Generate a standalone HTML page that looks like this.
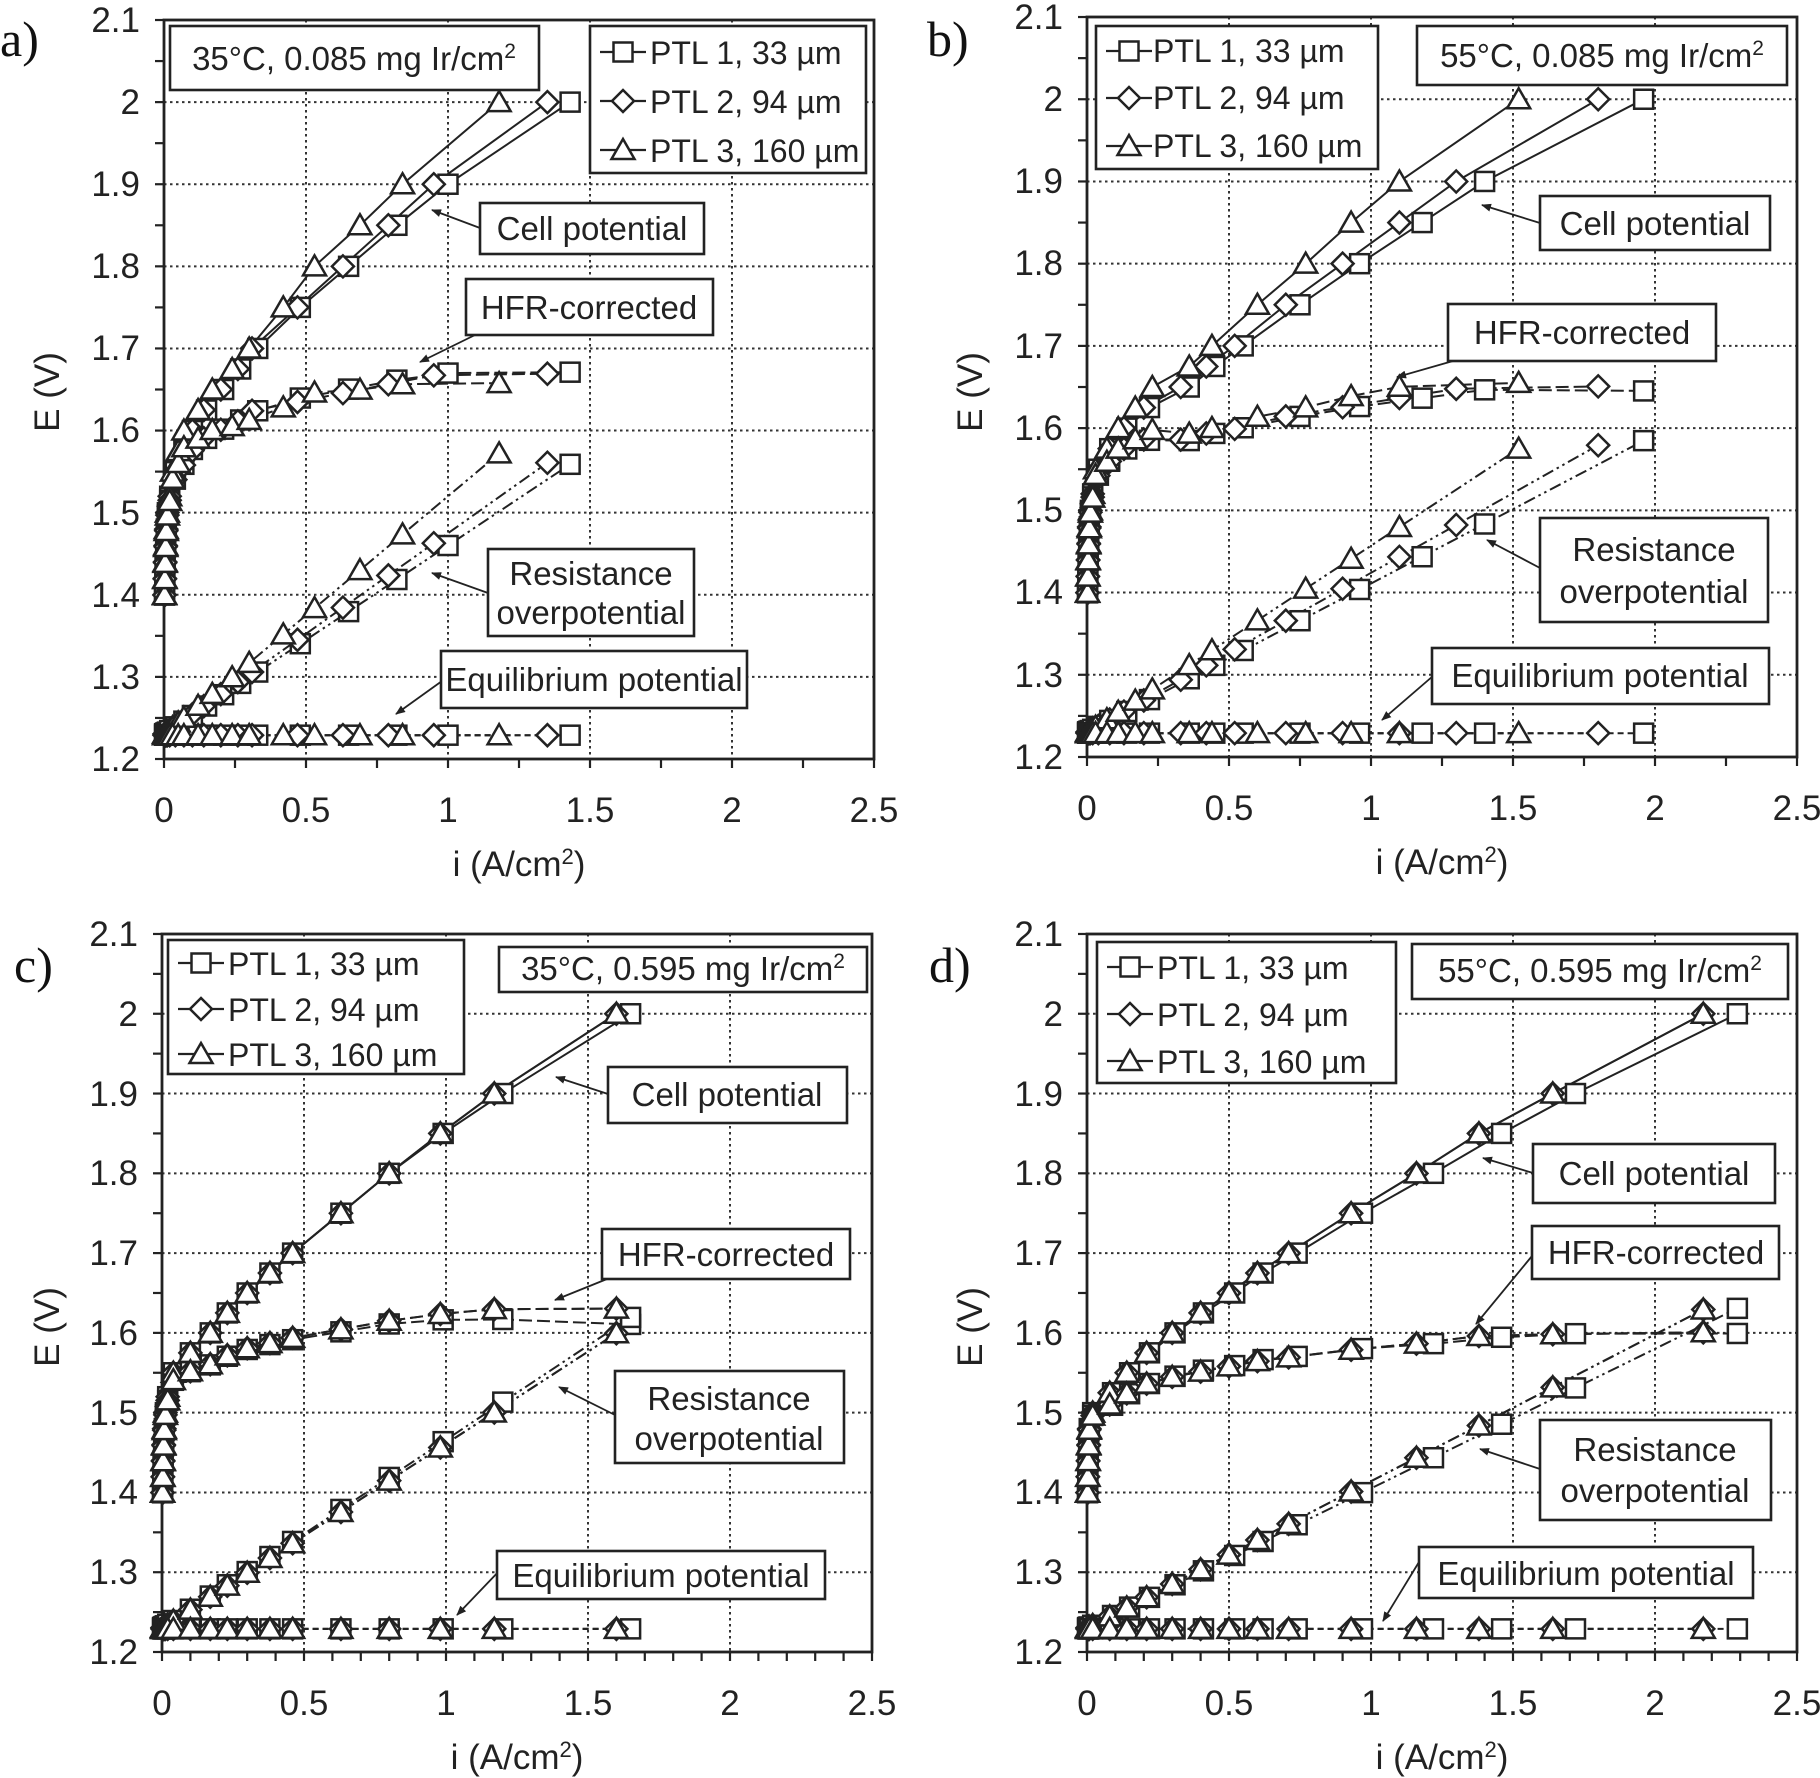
<!DOCTYPE html>
<html><head><meta charset="utf-8"><style>
html,body{margin:0;padding:0;background:#fff}
svg{display:block}
text{font-family:"Liberation Sans",Arial,sans-serif;fill:#222}
.tk{font-size:35px}
.ann{font-size:33px}
.lg{font-size:32px}
.pl{font-family:"Liberation Serif",serif;font-size:50px;fill:#111}
.bx{fill:#fff;stroke:#222;stroke-width:2.6}
.ar{stroke:#222;stroke-width:1.8;fill:none}
</style></head><body>
<svg id="s" width="1820" height="1778" viewBox="0 0 1820 1778" xmlns="http://www.w3.org/2000/svg">
<defs><marker id="ah" markerWidth="10" markerHeight="8" refX="9" refY="4" orient="auto" markerUnits="userSpaceOnUse"><path d="M0,0 L10,4 L0,8 z" fill="#222"/></marker></defs>
<g id="plots"></g>
<g id="labels">
<!-- Panel a -->
<text class="pl" x="0" y="56">a)</text>
<text class="tk" x="140" y="32" text-anchor="end">2.1</text>
<text class="tk" x="140" y="114" text-anchor="end">2</text>
<text class="tk" x="140" y="196" text-anchor="end">1.9</text>
<text class="tk" x="140" y="278" text-anchor="end">1.8</text>
<text class="tk" x="140" y="360" text-anchor="end">1.7</text>
<text class="tk" x="140" y="442" text-anchor="end">1.6</text>
<text class="tk" x="140" y="525" text-anchor="end">1.5</text>
<text class="tk" x="140" y="607" text-anchor="end">1.4</text>
<text class="tk" x="140" y="689" text-anchor="end">1.3</text>
<text class="tk" x="140" y="771" text-anchor="end">1.2</text>
<text class="tk" x="164" y="822" text-anchor="middle">0</text>
<text class="tk" x="306" y="822" text-anchor="middle">0.5</text>
<text class="tk" x="448" y="822" text-anchor="middle">1</text>
<text class="tk" x="590" y="822" text-anchor="middle">1.5</text>
<text class="tk" x="732" y="822" text-anchor="middle">2</text>
<text class="tk" x="874" y="822" text-anchor="middle">2.5</text>
<text class="tk" x="519" y="876" text-anchor="middle">i (A/cm<tspan font-size="22" dy="-12">2</tspan><tspan dy="12">)</tspan></text>
<text class="tk" transform="translate(59,392) rotate(-90)" text-anchor="middle">E (V)</text>
<!-- Panel b -->
<text class="pl" x="927" y="56">b)</text>
<text class="tk" x="1063" y="29" text-anchor="end">2.1</text>
<text class="tk" x="1063" y="111" text-anchor="end">2</text>
<text class="tk" x="1063" y="193" text-anchor="end">1.9</text>
<text class="tk" x="1063" y="275" text-anchor="end">1.8</text>
<text class="tk" x="1063" y="358" text-anchor="end">1.7</text>
<text class="tk" x="1063" y="440" text-anchor="end">1.6</text>
<text class="tk" x="1063" y="522" text-anchor="end">1.5</text>
<text class="tk" x="1063" y="604" text-anchor="end">1.4</text>
<text class="tk" x="1063" y="687" text-anchor="end">1.3</text>
<text class="tk" x="1063" y="769" text-anchor="end">1.2</text>
<text class="tk" x="1087" y="820" text-anchor="middle">0</text>
<text class="tk" x="1229" y="820" text-anchor="middle">0.5</text>
<text class="tk" x="1371" y="820" text-anchor="middle">1</text>
<text class="tk" x="1513" y="820" text-anchor="middle">1.5</text>
<text class="tk" x="1655" y="820" text-anchor="middle">2</text>
<text class="tk" x="1797" y="820" text-anchor="middle">2.5</text>
<text class="tk" x="1442" y="874" text-anchor="middle">i (A/cm<tspan font-size="22" dy="-12">2</tspan><tspan dy="12">)</tspan></text>
<text class="tk" transform="translate(982,392) rotate(-90)" text-anchor="middle">E (V)</text>
<!-- Panel c -->
<text class="pl" x="14" y="982">c)</text>
<text class="tk" x="138" y="946" text-anchor="end">2.1</text>
<text class="tk" x="138" y="1026" text-anchor="end">2</text>
<text class="tk" x="138" y="1106" text-anchor="end">1.9</text>
<text class="tk" x="138" y="1185" text-anchor="end">1.8</text>
<text class="tk" x="138" y="1265" text-anchor="end">1.7</text>
<text class="tk" x="138" y="1345" text-anchor="end">1.6</text>
<text class="tk" x="138" y="1425" text-anchor="end">1.5</text>
<text class="tk" x="138" y="1504" text-anchor="end">1.4</text>
<text class="tk" x="138" y="1584" text-anchor="end">1.3</text>
<text class="tk" x="138" y="1664" text-anchor="end">1.2</text>
<text class="tk" x="162" y="1715" text-anchor="middle">0</text>
<text class="tk" x="304" y="1715" text-anchor="middle">0.5</text>
<text class="tk" x="446" y="1715" text-anchor="middle">1</text>
<text class="tk" x="588" y="1715" text-anchor="middle">1.5</text>
<text class="tk" x="730" y="1715" text-anchor="middle">2</text>
<text class="tk" x="872" y="1715" text-anchor="middle">2.5</text>
<text class="tk" x="517" y="1769" text-anchor="middle">i (A/cm<tspan font-size="22" dy="-12">2</tspan><tspan dy="12">)</tspan></text>
<text class="tk" transform="translate(59,1327) rotate(-90)" text-anchor="middle">E (V)</text>
<!-- Panel d -->
<text class="pl" x="929" y="982">d)</text>
<text class="tk" x="1063" y="946" text-anchor="end">2.1</text>
<text class="tk" x="1063" y="1026" text-anchor="end">2</text>
<text class="tk" x="1063" y="1106" text-anchor="end">1.9</text>
<text class="tk" x="1063" y="1185" text-anchor="end">1.8</text>
<text class="tk" x="1063" y="1265" text-anchor="end">1.7</text>
<text class="tk" x="1063" y="1345" text-anchor="end">1.6</text>
<text class="tk" x="1063" y="1425" text-anchor="end">1.5</text>
<text class="tk" x="1063" y="1504" text-anchor="end">1.4</text>
<text class="tk" x="1063" y="1584" text-anchor="end">1.3</text>
<text class="tk" x="1063" y="1664" text-anchor="end">1.2</text>
<text class="tk" x="1087" y="1715" text-anchor="middle">0</text>
<text class="tk" x="1229" y="1715" text-anchor="middle">0.5</text>
<text class="tk" x="1371" y="1715" text-anchor="middle">1</text>
<text class="tk" x="1513" y="1715" text-anchor="middle">1.5</text>
<text class="tk" x="1655" y="1715" text-anchor="middle">2</text>
<text class="tk" x="1797" y="1715" text-anchor="middle">2.5</text>
<text class="tk" x="1442" y="1769" text-anchor="middle">i (A/cm<tspan font-size="22" dy="-12">2</tspan><tspan dy="12">)</tspan></text>
<text class="tk" transform="translate(982,1327) rotate(-90)" text-anchor="middle">E (V)</text>
</g>
<g id="boxes">
<!-- a -->
<rect class="bx" x="170" y="26" width="369" height="64"/>
<text class="ann" x="354" y="70" text-anchor="middle">35°C, 0.085 mg Ir/cm<tspan font-size="21" dy="-12">2</tspan></text>
<rect class="bx" x="590" y="26" width="276" height="147"/>
<text class="lg" x="650" y="64">PTL 1, 33 µm</text>
<text class="lg" x="650" y="113">PTL 2, 94 µm</text>
<text class="lg" x="650" y="162">PTL 3, 160 µm</text>
<line class="ar" x1="480" y1="228" x2="432" y2="210" marker-end="url(#ah)"/>
<rect class="bx" x="480" y="203" width="224" height="51"/>
<text class="ann" x="592" y="240" text-anchor="middle">Cell potential</text>
<line class="ar" x1="475" y1="335" x2="420" y2="362" marker-end="url(#ah)"/>
<rect class="bx" x="466" y="279" width="247" height="56"/>
<text class="ann" x="589" y="319" text-anchor="middle">HFR-corrected</text>
<line class="ar" x1="488" y1="593" x2="432" y2="573" marker-end="url(#ah)"/>
<rect class="bx" x="488" y="549" width="206" height="87"/>
<text class="ann" x="591" y="585" text-anchor="middle">Resistance</text>
<text class="ann" x="591" y="624" text-anchor="middle">overpotential</text>
<line class="ar" x1="442" y1="681" x2="396" y2="714" marker-end="url(#ah)"/>
<rect class="bx" x="441" y="651" width="306" height="57"/>
<text class="ann" x="594" y="691" text-anchor="middle">Equilibrium potential</text>
<!-- b -->
<rect class="bx" x="1417" y="26" width="370" height="59"/>
<text class="ann" x="1602" y="67" text-anchor="middle">55°C, 0.085 mg Ir/cm<tspan font-size="21" dy="-12">2</tspan></text>
<rect class="bx" x="1096" y="26" width="282" height="143"/>
<text class="lg" x="1153" y="62">PTL 1, 33 µm</text>
<text class="lg" x="1153" y="109">PTL 2, 94 µm</text>
<text class="lg" x="1153" y="157">PTL 3, 160 µm</text>
<line class="ar" x1="1540" y1="223" x2="1482" y2="205" marker-end="url(#ah)"/>
<rect class="bx" x="1540" y="196" width="230" height="54"/>
<text class="ann" x="1655" y="235" text-anchor="middle">Cell potential</text>
<line class="ar" x1="1453" y1="361" x2="1397" y2="377" marker-end="url(#ah)"/>
<rect class="bx" x="1448" y="304" width="268" height="57"/>
<text class="ann" x="1582" y="344" text-anchor="middle">HFR-corrected</text>
<line class="ar" x1="1540" y1="568" x2="1487" y2="540" marker-end="url(#ah)"/>
<rect class="bx" x="1540" y="518" width="228" height="104"/>
<text class="ann" x="1654" y="561" text-anchor="middle">Resistance</text>
<text class="ann" x="1654" y="603" text-anchor="middle">overpotential</text>
<line class="ar" x1="1433" y1="676" x2="1382" y2="720" marker-end="url(#ah)"/>
<rect class="bx" x="1432" y="648" width="337" height="56"/>
<text class="ann" x="1600" y="687" text-anchor="middle">Equilibrium potential</text>
<!-- c -->
<rect class="bx" x="499" y="947" width="368" height="45"/>
<text class="ann" x="683" y="980" text-anchor="middle">35°C, 0.595 mg Ir/cm<tspan font-size="21" dy="-12">2</tspan></text>
<rect class="bx" x="168" y="940" width="296" height="134"/>
<text class="lg" x="228" y="975">PTL 1, 33 µm</text>
<text class="lg" x="228" y="1021">PTL 2, 94 µm</text>
<text class="lg" x="228" y="1066">PTL 3, 160 µm</text>
<line class="ar" x1="608" y1="1094" x2="556" y2="1077" marker-end="url(#ah)"/>
<rect class="bx" x="608" y="1067" width="239" height="56"/>
<text class="ann" x="727" y="1106" text-anchor="middle">Cell potential</text>
<line class="ar" x1="607" y1="1279" x2="555" y2="1300" marker-end="url(#ah)"/>
<rect class="bx" x="602" y="1229" width="248" height="50"/>
<text class="ann" x="726" y="1266" text-anchor="middle">HFR-corrected</text>
<line class="ar" x1="615" y1="1415" x2="559" y2="1387" marker-end="url(#ah)"/>
<rect class="bx" x="615" y="1371" width="229" height="92"/>
<text class="ann" x="729" y="1410" text-anchor="middle">Resistance</text>
<text class="ann" x="729" y="1450" text-anchor="middle">overpotential</text>
<line class="ar" x1="502" y1="1568" x2="457" y2="1615" marker-end="url(#ah)"/>
<rect class="bx" x="497" y="1551" width="328" height="48"/>
<text class="ann" x="661" y="1587" text-anchor="middle">Equilibrium potential</text>
<!-- d -->
<rect class="bx" x="1412" y="944" width="376" height="55"/>
<text class="ann" x="1600" y="982" text-anchor="middle">55°C, 0.595 mg Ir/cm<tspan font-size="21" dy="-12">2</tspan></text>
<rect class="bx" x="1097" y="942" width="299" height="141"/>
<text class="lg" x="1157" y="979">PTL 1, 33 µm</text>
<text class="lg" x="1157" y="1026">PTL 2, 94 µm</text>
<text class="lg" x="1157" y="1073">PTL 3, 160 µm</text>
<line class="ar" x1="1533" y1="1173" x2="1483" y2="1158" marker-end="url(#ah)"/>
<rect class="bx" x="1533" y="1144" width="242" height="59"/>
<text class="ann" x="1654" y="1185" text-anchor="middle">Cell potential</text>
<line class="ar" x1="1532" y1="1256" x2="1476" y2="1324" marker-end="url(#ah)"/>
<rect class="bx" x="1532" y="1226" width="247" height="53"/>
<text class="ann" x="1656" y="1264" text-anchor="middle">HFR-corrected</text>
<line class="ar" x1="1540" y1="1469" x2="1480" y2="1449" marker-end="url(#ah)"/>
<rect class="bx" x="1540" y="1420" width="231" height="100"/>
<text class="ann" x="1655" y="1461" text-anchor="middle">Resistance</text>
<text class="ann" x="1655" y="1502" text-anchor="middle">overpotential</text>
<line class="ar" x1="1419" y1="1562" x2="1383" y2="1621" marker-end="url(#ah)"/>
<rect class="bx" x="1419" y="1547" width="334" height="51"/>
<text class="ann" x="1586" y="1585" text-anchor="middle">Equilibrium potential</text>
</g>
<g id="leg"></g>
</svg>
<script>
(function(){
var NS="http://www.w3.org/2000/svg";
var root=document.getElementById('plots');
var legRoot=document.getElementById('leg');
function el(t,a,p){var e=document.createElementNS(NS,t);for(var k in a)e.setAttribute(k,a[k]);(p||root).appendChild(e);return e;}
function mk(type,x,y,p,s){
 s=s||1;
 var st={fill:'#fff',stroke:'#222','stroke-width':2.5};
 if(type==0){st.x=x-9.5*s;st.y=y-9.5*s;st.width=19*s;st.height=19*s;el('rect',st,p);}
 else if(type==1){st.points=[x,y-11*s,x+11*s,y,x,y+11*s,x-11*s,y].join(',');el('polygon',st,p);}
 else {st.points=[x,y-11*s,x+11.5*s,y+9*s,x-11.5*s,y+9*s].join(',');el('polygon',st,p);}
}
var low=[[0.002,1.40],[0.003,1.42],[0.004,1.44],[0.006,1.46],[0.008,1.48]];
var std=[[0.012,1.50],[0.02,1.52]];
var panels=[
{x0:164,y12:759,top:20,ys:821.1,minor:0.25,legY:[52,101,150],legX:590,
 d:[[0.23,[[0.04,1.55],[0.07,1.575],[0.1,1.6],[0.15,1.625],[0.21,1.65],[0.27,1.675],[0.33,1.7],[0.48,1.75],[0.65,1.8],[0.82,1.85],[1.0,1.9],[1.43,2.0]]],
    [0.245,[[0.04,1.55],[0.07,1.575],[0.1,1.6],[0.14,1.625],[0.2,1.65],[0.26,1.675],[0.31,1.7],[0.47,1.75],[0.63,1.8],[0.79,1.85],[0.95,1.9],[1.35,2.0]]],
    [0.29,[[0.03,1.55],[0.05,1.575],[0.07,1.6],[0.12,1.625],[0.17,1.65],[0.24,1.675],[0.3,1.7],[0.42,1.75],[0.53,1.8],[0.69,1.85],[0.84,1.9],[1.18,2.0]]]]},
{x0:1087,y12:757,top:17,ys:822.2,minor:0.25,legY:[51,98,146],legX:1096,
 d:[[0.181,[[0.04,1.55],[0.08,1.575],[0.14,1.6],[0.22,1.625],[0.36,1.65],[0.45,1.675],[0.55,1.7],[0.75,1.75],[0.96,1.8],[1.18,1.85],[1.4,1.9],[1.96,2.0]]],
    [0.194,[[0.04,1.55],[0.08,1.575],[0.13,1.6],[0.2,1.625],[0.33,1.65],[0.42,1.675],[0.52,1.7],[0.7,1.75],[0.9,1.8],[1.1,1.85],[1.3,1.9],[1.8,2.0]]],
    [0.227,[[0.03,1.55],[0.07,1.575],[0.11,1.6],[0.17,1.625],[0.23,1.65],[0.36,1.675],[0.44,1.7],[0.6,1.75],[0.77,1.8],[0.93,1.85],[1.1,1.9],[1.52,2.0]]]]},
{x0:162,y12:1652,top:934,ys:797.8,minor:0.1,legY:[963,1009,1054],legX:168,
 d:[[0.236,[[0.04,1.55],[0.1,1.575],[0.17,1.6],[0.23,1.625],[0.3,1.65],[0.38,1.675],[0.46,1.7],[0.63,1.75],[0.8,1.8],[0.99,1.85],[1.2,1.9],[1.65,2.0]]],
    [0.231,[[0.04,1.55],[0.1,1.575],[0.17,1.6],[0.23,1.625],[0.3,1.65],[0.38,1.675],[0.46,1.7],[0.63,1.75],[0.8,1.8],[0.98,1.85],[1.17,1.9],[1.6,2.0]]],
    [0.231,[[0.04,1.55],[0.1,1.575],[0.17,1.6],[0.23,1.625],[0.3,1.65],[0.38,1.675],[0.46,1.7],[0.63,1.75],[0.8,1.8],[0.98,1.85],[1.17,1.9],[1.6,2.0]]]]},
{x0:1087,y12:1652,top:934,ys:797.8,minor:0.1,legY:[967,1014,1061],legX:1097,dlow:true,
 d:[[0.175,[[0.02,1.5],[0.09,1.525],[0.15,1.55],[0.22,1.575],[0.31,1.6],[0.41,1.625],[0.52,1.65],[0.62,1.675],[0.74,1.7],[0.97,1.75],[1.22,1.8],[1.46,1.85],[1.72,1.9],[2.29,2.0]]],
    [0.184,[[0.02,1.5],[0.08,1.525],[0.14,1.55],[0.21,1.575],[0.3,1.6],[0.4,1.625],[0.5,1.65],[0.6,1.675],[0.71,1.7],[0.93,1.75],[1.16,1.8],[1.38,1.85],[1.64,1.9],[2.17,2.0]]],
    [0.184,[[0.02,1.5],[0.08,1.525],[0.14,1.55],[0.21,1.575],[0.3,1.6],[0.4,1.625],[0.5,1.65],[0.6,1.675],[0.71,1.7],[0.93,1.75],[1.16,1.8],[1.38,1.85],[1.64,1.9],[2.17,2.0]]]]}
];
var under=el('g',{}),dataG=el('g',{});
panels.forEach(function(P){
 var X=function(i){return P.x0+i*284;}, Y=function(E){return P.y12-(E-1.2)*P.ys;};
 var right=X(2.5);
 var g=el('g',{},under);
 [0.5,1,1.5,2].forEach(function(v){el('line',{x1:X(v),x2:X(v),y1:P.top,y2:P.y12,stroke:'#333','stroke-width':2,'stroke-dasharray':'2.5 3.5'},g);});
 for(var k=1;k<=8;k++){var E=1.2+k*0.1;el('line',{x1:P.x0,x2:right,y1:Y(E),y2:Y(E),stroke:'#333','stroke-width':2,'stroke-dasharray':'2.5 3.5'},g);}
 for(var k=0;k<=18;k++){var yy=Y(1.2+k*0.05);el('line',{x1:P.x0-9,x2:P.x0,y1:yy,y2:yy,stroke:'#222','stroke-width':2.2},g);}
 for(var v=0;v<=2.5001;v+=P.minor){el('line',{x1:X(v),x2:X(v),y1:P.y12,y2:P.y12+9,stroke:'#222','stroke-width':2.2},g);}
 el('rect',{x:P.x0,y:P.top,width:right-P.x0,height:P.y12-P.top,fill:'none',stroke:'#222','stroke-width':2.8},g);
 var styles={cell:'none',hfr:'13 5',res:'12 4 2.5 4 2.5 4',eq:'6 4'};
 var dg=el('g',{},dataG);
 var lineG=el('g',{},dg),mkG=el('g',{},dg);
 P.d.forEach(function(s,idx){
  var R=s[0],pts=low.concat(P.dlow?[]:std).concat(s[1]);
  var sets={cell:pts.map(function(p){return [p[0],p[1]];}),
            hfr:pts.map(function(p){return [p[0],p[1]-R*p[0]];}),
            res:pts.map(function(p){return [p[0],1.23+R*p[0]];}),
            eq:pts.map(function(p){return [p[0],1.229];})};
  for(var key in sets){
   var d=sets[key].map(function(p,j){return (j?'L':'M')+X(p[0]).toFixed(1)+','+Y(p[1]).toFixed(1);}).join(' ');
   var a={d:d,fill:'none',stroke:'#222','stroke-width':2};
   if(styles[key]!='none')a['stroke-dasharray']=styles[key];
   el('path',a,lineG);
   sets[key].forEach(function(p){mk(idx,X(p[0]),Y(p[1]),mkG);});
  }
 });
 P.legY.forEach(function(yy,idx){
  var lx=P.legX;
  el('line',{x1:lx+10,x2:lx+56,y1:yy,y2:yy,stroke:'#222','stroke-width':2.2},legRoot);
  mk(idx,lx+33,yy,legRoot);
 });
});
})();
</script>
</body></html>
